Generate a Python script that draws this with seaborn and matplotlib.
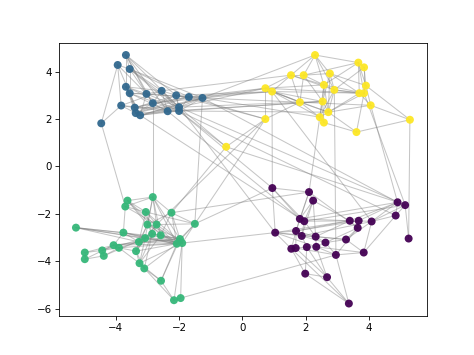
import numpy as np
import pandas as pd
import matplotlib
matplotlib.use("Agg")
import matplotlib.pyplot as plt
import seaborn as sns

# node positions per community
blue_x = [-3.68, -3.94, -3.56, -3.68, -3.56, -3.03, -2.55, -2.09, -1.69, -1.26,
          -3.83, -2.83, -3.40, -3.37, -3.23, -2.36, -2.00, -2.00, -4.46]
blue_y = [4.70, 4.28, 4.11, 3.36, 3.09, 3.06, 3.19, 3.00, 2.93, 2.89,
          2.57, 2.67, 2.48, 2.25, 2.16, 2.33, 2.50, 2.34, 1.82]

yellow_x = [2.30, 3.67, 3.85, 1.54, 1.94, 2.77, 3.91, 0.73, 0.94, 2.58, 2.91, 3.70,
            3.85, 1.82, 2.54, 4.06, 2.72, 2.45, 2.58, 0.73, 3.61, 5.30, -0.51]
yellow_y = [4.70, 4.38, 4.18, 3.85, 3.85, 3.92, 3.41, 3.30, 3.16, 3.44, 3.23, 3.09,
            3.09, 2.71, 2.74, 2.58, 2.29, 2.08, 1.85, 2.00, 1.45, 1.97, 0.83]

green_x = [-3.63, -3.70, -2.83, -3.05, -2.24, -1.50, -5.26, -3.00, -2.71, -3.76,
           -2.85, -2.58, -3.07, -3.27, -1.97, -1.90, -2.07, -4.07, -3.90, -4.43,
           -3.36, -4.98, -4.38, -4.98, -3.25, -3.10, -2.57, -2.16, -1.95]
green_y = [-1.44, -1.69, -1.29, -1.92, -1.95, -2.42, -2.58, -2.45, -2.45, -2.79,
           -2.84, -2.90, -3.02, -3.18, -3.06, -3.23, -3.26, -3.32, -3.43, -3.54,
           -3.57, -3.63, -3.77, -3.91, -4.08, -4.30, -4.82, -5.64, -5.55]

purple_x = [0.95, 2.11, 2.24, 4.91, 5.15, 4.85, 1.82, 1.96, 3.40, 3.68, 4.09, 3.65,
            1.04, 1.70, 1.88, 2.32, 2.63, 3.28, 5.26, 1.55, 1.69, 2.04, 2.34, 2.96,
            3.84, 1.99, 2.68, 3.37]
purple_y = [-0.91, -1.08, -1.44, -1.51, -1.63, -2.07, -2.21, -2.31, -2.29, -2.29,
            -2.32, -2.59, -2.79, -2.72, -2.93, -2.96, -3.21, -3.08, -3.04, -3.47,
            -3.44, -3.40, -3.39, -3.73, -3.63, -4.52, -4.67, -5.78]

# edges inside each community (local indices)
blue_edges = [(0, 2), (0, 3), (0, 5), (0, 11), (0, 15), (0, 7), (1, 2), (1, 10), (1, 18),
              (1, 4), (2, 4), (2, 6), (2, 11), (2, 16), (2, 17), (3, 4), (3, 12), (3, 6),
              (3, 13), (4, 5), (4, 12), (4, 14), (4, 8), (5, 6), (5, 11), (5, 14), (5, 16),
              (6, 7), (6, 11), (6, 15), (6, 17), (7, 8), (7, 16), (7, 13), (8, 9), (8, 17),
              (8, 11), (9, 16), (9, 14), (9, 17), (10, 12), (10, 18), (10, 13), (10, 6),
              (11, 12), (11, 15), (11, 13), (12, 13), (12, 14), (12, 16), (13, 14), (13, 17),
              (13, 8), (14, 15), (14, 16), (14, 9), (15, 16), (15, 17), (16, 17), (12, 7), (3, 5),
              (0, 16), (2, 8), (2, 9), (3, 17), (4, 15), (5, 9), (13, 9), (12, 8), (14, 17),
              (10, 17), (11, 9), (6, 16), (1, 5), (3, 14), (7, 17), (12, 15), (4, 17)]
yellow_edges = [(0, 1), (0, 3), (0, 4), (0, 9), (0, 10), (1, 2), (1, 6), (1, 9), (1, 11),
                (1, 4), (2, 6), (2, 12), (3, 4), (3, 7), (3, 8), (3, 9), (3, 13), (4, 9),
                (4, 5), (5, 10), (5, 11), (5, 14), (6, 12), (6, 15), (7, 8), (7, 13), (8, 13),
                (8, 14), (8, 16), (9, 10), (9, 14), (9, 17), (10, 11), (10, 12), (10, 16),
                (11, 12), (11, 15), (12, 16), (12, 20), (13, 14), (13, 16), (14, 16), (14, 17),
                (15, 21), (15, 16), (16, 17), (17, 18), (16, 20), (18, 20), (20, 21), (13, 17),
                (19, 13), (9, 16), (5, 6), (11, 16), (14, 18), (4, 13), (8, 17), (22, 19),
                (6, 21), (7, 19), (0, 5), (2, 10), (3, 10), (7, 11), (8, 12), (4, 14),
                (9, 12), (13, 15), (10, 17), (5, 16), (1, 12), (7, 9)]
green_edges = [(0, 2), (1, 2), (0, 7), (1, 9), (2, 4), (2, 7), (2, 8), (2, 11), (3, 10),
               (3, 8), (4, 5), (4, 11), (4, 14), (5, 14), (5, 15), (5, 8), (6, 9), (6, 14),
               (6, 16), (6, 12), (7, 8), (7, 10), (7, 13), (8, 11), (8, 15), (9, 13), (9, 17),
               (9, 12), (10, 11), (10, 12), (10, 16), (11, 14), (11, 16), (12, 13), (12, 20),
               (12, 24), (13, 17), (13, 18), (13, 20), (14, 15), (14, 16), (15, 16), (15, 27),
               (15, 28), (16, 26), (17, 18), (17, 19), (18, 19), (18, 20), (19, 21), (19, 22),
               (21, 23), (22, 23), (21, 17), (22, 18), (20, 24), (20, 25), (24, 25), (24, 26),
               (25, 26), (26, 27), (27, 28), (24, 27), (10, 25), (11, 24), (3, 13), (1, 3),
               (0, 3), (3, 5), (9, 16), (17, 14), (12, 15), (8, 20), (13, 16), (7, 16), (4, 7),
               (18, 24), (26, 14), (2, 14), (2, 16), (0, 11), (1, 8), (3, 15), (4, 16),
               (7, 14), (8, 12), (9, 15), (10, 14), (11, 15), (12, 16), (13, 14), (17, 16),
               (18, 15), (19, 12), (20, 16), (22, 12), (23, 17), (24, 15), (25, 16), (8, 24),
               (7, 20), (6, 13), (0, 16), (5, 16), (2, 12)]
purple_edges = [(0, 1), (0, 6), (0, 12), (0, 7), (1, 2), (1, 6), (1, 13), (2, 6), (2, 7),
                (2, 14), (2, 15), (3, 4), (3, 5), (3, 8), (3, 9), (3, 10), (4, 5), (4, 18),
                (5, 10), (5, 24), (4, 10), (6, 7), (6, 8), (6, 13), (7, 9), (7, 14), (8, 9),
                (8, 11), (8, 13), (9, 10), (9, 11), (11, 17), (11, 16), (11, 23), (12, 13),
                (12, 19), (12, 14), (12, 17), (12, 8), (13, 14), (13, 19), (13, 20), (14, 15),
                (14, 21), (14, 16), (15, 16), (15, 22), (15, 8), (16, 17), (16, 22), (16, 23),
                (17, 24), (17, 10), (19, 20), (19, 25), (20, 21), (20, 26), (21, 22), (21, 25),
                (22, 23), (22, 26), (23, 24), (23, 27), (25, 26), (25, 27), (26, 27), (19, 27),
                (21, 26), (13, 15), (10, 24), (7, 15), (6, 3), (7, 4), (13, 9), (14, 10),
                (2, 8), (1, 11), (15, 17), (20, 23), (22, 24), (12, 22)]

# edges between communities: (community, local index, community, local index)
cross_edges = [("B", 9, "Y", 0), ("B", 9, "Y", 7), ("B", 8, "Y", 8), ("B", 9, "Y", 13),
               ("B", 16, "Y", 7), ("B", 17, "Y", 16), ("B", 8, "Y", 19), ("B", 15, "Y", 14),
               ("B", 7, "Y", 8), ("B", 9, "Y", 17), ("B", 17, "Y", 22), ("B", 16, "Y", 22),
               ("B", 6, "Y", 3), ("B", 9, "Y", 8), ("B", 8, "Y", 7), ("B", 16, "Y", 13),
               ("B", 7, "Y", 19), ("B", 17, "Y", 14),
               ("B", 17, "P", 0), ("B", 16, "P", 12), ("B", 9, "P", 3), ("B", 15, "P", 6),
               ("B", 14, "P", 7), ("B", 17, "P", 5), ("B", 16, "P", 4),
               ("B", 11, "G", 2), ("B", 9, "G", 5), ("B", 18, "G", 1),
               ("Y", 8, "P", 0), ("Y", 10, "P", 23), ("Y", 17, "P", 1), ("Y", 15, "P", 3),
               ("Y", 22, "P", 3), ("Y", 8, "P", 10), ("Y", 12, "P", 4), ("Y", 21, "P", 18),
               ("Y", 19, "G", 8), ("Y", 22, "G", 4), ("Y", 19, "G", 5),
               ("G", 15, "P", 12), ("G", 5, "P", 0), ("G", 28, "P", 23), ("G", 4, "P", 1)]

groups = {"B": (blue_x, blue_y, blue_edges, "#31688e"),
          "Y": (yellow_x, yellow_y, yellow_edges, "#fde725"),
          "G": (green_x, green_y, green_edges, "#35b779"),
          "P": (purple_x, purple_y, purple_edges, "#440154")}

frames = []
for key, (xs, ys, _, _) in groups.items():
    frames.append(pd.DataFrame({"x": xs, "y": ys, "group": key}))
nodes = pd.concat(frames, ignore_index=True)

fig, ax = plt.subplots(figsize=(474 / 74, 355 / 74), dpi=74)

# edges
for key, (xs, ys, edges, _) in groups.items():
    for a, b in edges:
        ax.plot([xs[a], xs[b]], [ys[a], ys[b]], color="gray", alpha=0.45, lw=1, zorder=1)
for ga, a, gb, b in cross_edges:
    xa, ya = groups[ga][0][a], groups[ga][1][a]
    xb, yb = groups[gb][0][b], groups[gb][1][b]
    ax.plot([xa, xb], [ya, yb], color="gray", alpha=0.45, lw=1, zorder=1)

palette = {k: v[3] for k, v in groups.items()}
sns.scatterplot(data=nodes, x="x", y="y", hue="group", palette=palette, s=60,
                linewidth=0, alpha=0.95, legend=False, ax=ax, zorder=2)

ax.set_xlabel("")
ax.set_ylabel("")
ax.set_xticks([-4, -2, 0, 2, 4])
ax.set_yticks([-6, -4, -2, 0, 2, 4])

plt.savefig("out.png", dpi=74)
